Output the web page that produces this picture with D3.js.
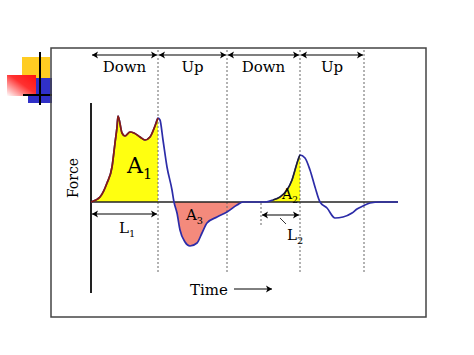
<!DOCTYPE html>
<html><head><meta charset="utf-8">
<script src="https://cdn.jsdelivr.net/npm/d3@7"></script>
<style>html,body{margin:0;padding:0;background:#fff}svg{display:block}</style>
</head><body>
<script>
// ---- data (time units, force units) ----
const curveTime  = [0,9,16,21,24,26,27,31,34,39,43,49,54,59,64,67,69,72,76,81,83,86,89,94,99,106,111,116,126,136,146,152,171,174,182,189,196,201,204,207,209,214,219,224,229,236,244,252,261,266,272,279,289,307];
const curveForce = [0,5,19,35,59,75,86,69,66,70,69,65,62,65,76,84,82,62,35,12,0,-11,-28,-40,-44,-41,-31,-21,-15,-10,-3,0,0,0,2,5,12,22,32,42,47,44,32,15,0,-6,-16,-15,-11,-7,-4,-1,0,0];
const phaseBounds = [0,67,136,209,273];
const phaseLabels = ["Down","Up","Down","Up"];
const areaA1 = [0,67];
const areaA3 = [83,152];
const areaA2 = [174,209];
const l2Start = 170;

const W=474,H=355;
const svg=d3.select("body").append("svg").attr("width",W).attr("height",H);
const x=d3.scaleLinear().domain([0,310]).range([91,401]);
const y=d3.scaleLinear().domain([0,100]).range([202,102]);
const pts=curveTime.map((t,i)=>({t,f:curveForce[i]}));
const inRange=(r)=>pts.filter(p=>p.t>=r[0]&&p.t<=r[1]);

const defs=svg.append("defs");
const g=defs.append("linearGradient").attr("id","rg").attr("x1",1).attr("y1",0).attr("x2",0).attr("y2",1);
g.append("stop").attr("offset",0).attr("stop-color","#ff1010");
g.append("stop").attr("offset",0.45).attr("stop-color","#ff3030");
g.append("stop").attr("offset",1).attr("stop-color","#ffffff");
const mk=(id,orient)=>defs.append("marker").attr("id",id).attr("viewBox","-6 -4 7 8").attr("refX",0).attr("refY",0)
  .attr("markerWidth",7).attr("markerHeight",8).attr("markerUnits","userSpaceOnUse").attr("orient",orient)
  .append("path").attr("d","M-6,-3.5 L0,0 L-6,3.5 L-4.5,0 Z").attr("fill","#000");
mk("ah","auto"); mk("ahs","auto-start-reverse");

// decoration
svg.append("rect").attr("x",22).attr("y",57).attr("width",28).attr("height",22).attr("fill","#ffcc22");
svg.append("rect").attr("x",28).attr("y",78).attr("width",24).attr("height",25).attr("fill","#3030c8");
svg.append("rect").attr("x",7).attr("y",75).attr("width",29).attr("height",21).attr("fill","url(#rg)");
svg.append("line").attr("x1",40).attr("x2",40).attr("y1",52).attr("y2",105).attr("stroke","#000").attr("stroke-width",2);
svg.append("line").attr("x1",23).attr("x2",52).attr("y1",95).attr("y2",95).attr("stroke","#000").attr("stroke-width",2);

// frame
svg.append("rect").attr("x",51).attr("y",48).attr("width",375).attr("height",269).attr("fill","none").attr("stroke","#444").attr("stroke-width",1.5);

// fills
const areaGen=d3.area().x(d=>x(d.t)).y0(y(0)).y1(d=>y(d.f)).curve(d3.curveMonotoneX);
svg.append("path").attr("d",areaGen(inRange(areaA1))).attr("fill","#ffff10");
svg.append("path").attr("d",areaGen(inRange(areaA2))).attr("fill","#ffff10");
svg.append("path").attr("d",areaGen(inRange(areaA3))).attr("fill","#f48a7c");

// dashed phase lines
phaseBounds.slice(1).forEach(b=>{
  svg.append("line").attr("x1",x(b)).attr("x2",x(b)).attr("y1",50).attr("y2",274)
    .attr("stroke","#666").attr("stroke-width",1).attr("stroke-dasharray","2,2");
});
svg.append("line").attr("x1",x(l2Start)).attr("x2",x(l2Start)).attr("y1",203).attr("y2",227)
  .attr("stroke","#666").attr("stroke-width",1).attr("stroke-dasharray","2,2");

// axes
svg.append("line").attr("x1",x(0)).attr("x2",x(0)).attr("y1",y(99)).attr("y2",y(-91)).attr("stroke","#222").attr("stroke-width",2);
svg.append("line").attr("x1",x(0)).attr("x2",x(307)).attr("y1",y(0)).attr("y2",y(0)).attr("stroke","#222").attr("stroke-width",1.3);

// curve
const lineGen=d3.line().x(d=>x(d.t)).y(d=>y(d.f)).curve(d3.curveMonotoneX);
svg.append("path").attr("d",lineGen(pts)).attr("fill","none").attr("stroke","#2c2ca8").attr("stroke-width",1.7);
svg.append("path").attr("d",lineGen(inRange(areaA1))).attr("fill","none").attr("stroke","#8a1c10").attr("stroke-width",1.7);
svg.append("path").attr("d",lineGen(inRange([176,209]))).attr("fill","none").attr("stroke","#222").attr("stroke-width",1.3);

const serif="'DejaVu Serif', serif";
// phase arrows & labels
phaseLabels.forEach((lab,i)=>{
  const a=x(phaseBounds[i]), b=x(phaseBounds[i+1]);
  svg.append("line").attr("x1",a+1).attr("x2",b-1).attr("y1",55).attr("y2",55).attr("stroke","#000").attr("stroke-width",1.2)
    .attr("marker-start","url(#ahs)").attr("marker-end","url(#ah)");
  svg.append("text").attr("x",(a+b)/2).attr("y",72).attr("text-anchor","middle").attr("font-family",serif).attr("font-size",15).text(lab);
});

// L1 / L2
svg.append("line").attr("x1",x(0)+1).attr("x2",x(67)-1).attr("y1",214).attr("y2",214).attr("stroke","#000").attr("stroke-width",1.2)
  .attr("marker-start","url(#ahs)").attr("marker-end","url(#ah)");
svg.append("line").attr("x1",x(l2Start)+1).attr("x2",x(209)-1).attr("y1",215).attr("y2",215).attr("stroke","#000").attr("stroke-width",1.2)
  .attr("marker-start","url(#ahs)").attr("marker-end","url(#ah)");
svg.append("line").attr("x1",280).attr("x2",286).attr("y1",218).attr("y2",224).attr("stroke","#000").attr("stroke-width",0.8);

function sub(xp,yp,main,s,fs,anchor){
  const t=svg.append("text").attr("x",xp).attr("y",yp).attr("font-family",serif).attr("font-size",fs).attr("text-anchor",anchor||"start");
  t.append("tspan").text(main);
  t.append("tspan").attr("font-size",fs*0.65).attr("dy",fs*0.25).text(s);
}
sub(119,233,"L","1",15);
sub(287,240,"L","2",15);
sub(127,173,"A","1",22);
sub(186,220,"A","3",15);
sub(282,199,"A","2",14);

// axis labels
svg.append("text").attr("transform","translate(78,178) rotate(-90)").attr("text-anchor","middle").attr("font-family",serif).attr("font-size",14).text("Force");
svg.append("text").attr("x",190).attr("y",295).attr("font-family",serif).attr("font-size",15).text("Time");
svg.append("line").attr("x1",234).attr("x2",272).attr("y1",289).attr("y2",289).attr("stroke","#000").attr("stroke-width",1).attr("marker-end","url(#ah)");
</script>
</body></html>
